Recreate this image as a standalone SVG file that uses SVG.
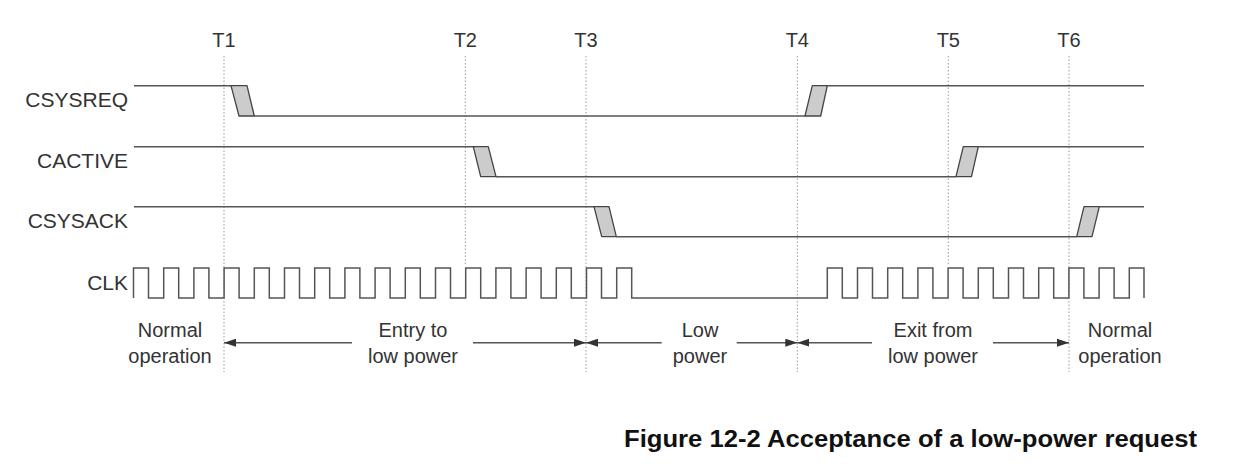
<svg xmlns="http://www.w3.org/2000/svg" width="1237" height="468" viewBox="0 0 1237 468">
<style>
text{font-family:"Liberation Sans",Arial,sans-serif;fill:#333;font-size:20px}
.lbl{font-size:21px;text-anchor:end}
.sig{fill:none;stroke:#555;stroke-width:1.5}
.tr{fill:#ccc;stroke:#444;stroke-width:1.3;stroke-linejoin:round}
.dot{stroke:#999;stroke-width:1;stroke-dasharray:1.5 2}
.ar{stroke:#555;stroke-width:1.5;fill:none}
.c{text-anchor:middle}
</style>
<defs>
<marker id="ah" viewBox="0 0 12 8" refX="12" refY="4" markerWidth="12" markerHeight="8" markerUnits="userSpaceOnUse" orient="auto-start-reverse"><path d="M0,0L12,4L0,8z" fill="#333"/></marker>
</defs>
<rect width="1237" height="468" fill="#fff"/>
<g id="timelines">
<line class="dot" x1="224" y1="56" x2="224" y2="372"/>
<line class="dot" x1="465.3" y1="56" x2="465.3" y2="265"/>
<line class="dot" x1="586" y1="56" x2="586" y2="372"/>
<line class="dot" x1="797.3" y1="56" x2="797.3" y2="372"/>
<line class="dot" x1="948.3" y1="56" x2="948.3" y2="265"/>
<line class="dot" x1="1069" y1="56" x2="1069" y2="372"/>
<text class="c" x="224" y="47">T1</text>
<text class="c" x="465.3" y="47">T2</text>
<text class="c" x="586" y="47">T3</text>
<text class="c" x="797.3" y="47">T4</text>
<text class="c" x="948.3" y="47">T5</text>
<text class="c" x="1069" y="47">T6</text>
</g>
<g id="csysreq">
<text class="lbl" x="128" y="107">CSYSREQ</text>
<path class="sig" d="M134,85.7H231M254.3,116H805M827.3,85.7H1144"/>
<path class="tr" d="M231,85.7H247L254.3,116H239Z"/>
<path class="tr" d="M805,116H820.7L827.3,85.7H812.3Z"/>
</g>
<g id="cactive">
<text class="lbl" x="128" y="168">CACTIVE</text>
<path class="sig" d="M134,146.7H473.3M496,176.7H956M978.3,146.7H1144"/>
<path class="tr" d="M473.3,146.7H488.3L496,176.7H480.7Z"/>
<path class="tr" d="M956,176.7H971.5L978.3,146.7H963.3Z"/>
</g>
<g id="csysack">
<text class="lbl" x="128" y="228">CSYSACK</text>
<path class="sig" d="M134,206.7H594M616.3,236.7H1076.7M1099.3,206.7H1144"/>
<path class="tr" d="M594,206.7H609L616.3,236.7H601.7Z"/>
<path class="tr" d="M1076.7,236.7H1092L1099.3,206.7H1084Z"/>
</g>
<g id="clk">
<text class="lbl" x="128" y="290">CLK</text>
<path class="sig" d="M133.5,298V268h15v30h15.2V268h15v30h15.2V268h15v30h15.2V268h15v30h15.2V268h15v30h15.2V268h15v30h15.2V268h15v30h15.2V268h15v30h15.2V268h15v30h15.2V268h15v30h15.2V268h15v30h15.2V268h15v30h15.2V268h15v30h15.2V268h15v30h15.2V268h15v30h15.2V268h15v30h15.2V268h15v30H827.3V268h15v30h15.2V268h15v30h15.2V268h15v30h15.2V268h15v30h15.2V268h15v30h15.2V268h15v30h15.2V268h15v30h15.2V268h15v30h15.2V268h15v30h15.2V268h15v30h15.2V268h14.7v30"/>
</g>
<g id="connectors">
<line class="ar" x1="352" y1="342.7" x2="224" y2="342.7" marker-end="url(#ah)"/>
<line class="ar" x1="473" y1="342.7" x2="586" y2="342.7" marker-end="url(#ah)"/>
<line class="ar" x1="661.7" y1="342.7" x2="586" y2="342.7" marker-end="url(#ah)"/>
<line class="ar" x1="736.7" y1="342.7" x2="797.3" y2="342.7" marker-end="url(#ah)"/>
<line class="ar" x1="872" y1="342.7" x2="797.3" y2="342.7" marker-end="url(#ah)"/>
<line class="ar" x1="993" y1="342.7" x2="1069" y2="342.7" marker-end="url(#ah)"/>
</g>
<g id="phases">
<text class="c" x="170" y="337">Normal</text>
<text class="c" x="170" y="363">operation</text>
<text class="c" x="413" y="337">Entry to</text>
<text class="c" x="413" y="363">low power</text>
<text class="c" x="700" y="337">Low</text>
<text class="c" x="700" y="363">power</text>
<text class="c" x="933" y="337">Exit from</text>
<text class="c" x="933" y="363">low power</text>
<text class="c" x="1120" y="337">Normal</text>
<text class="c" x="1120" y="363">operation</text>
</g>
<text x="624" y="447" textLength="573" lengthAdjust="spacingAndGlyphs" style="font-weight:bold;font-size:23px;fill:#111">Figure 12-2 Acceptance of a low-power request</text>
</svg>
